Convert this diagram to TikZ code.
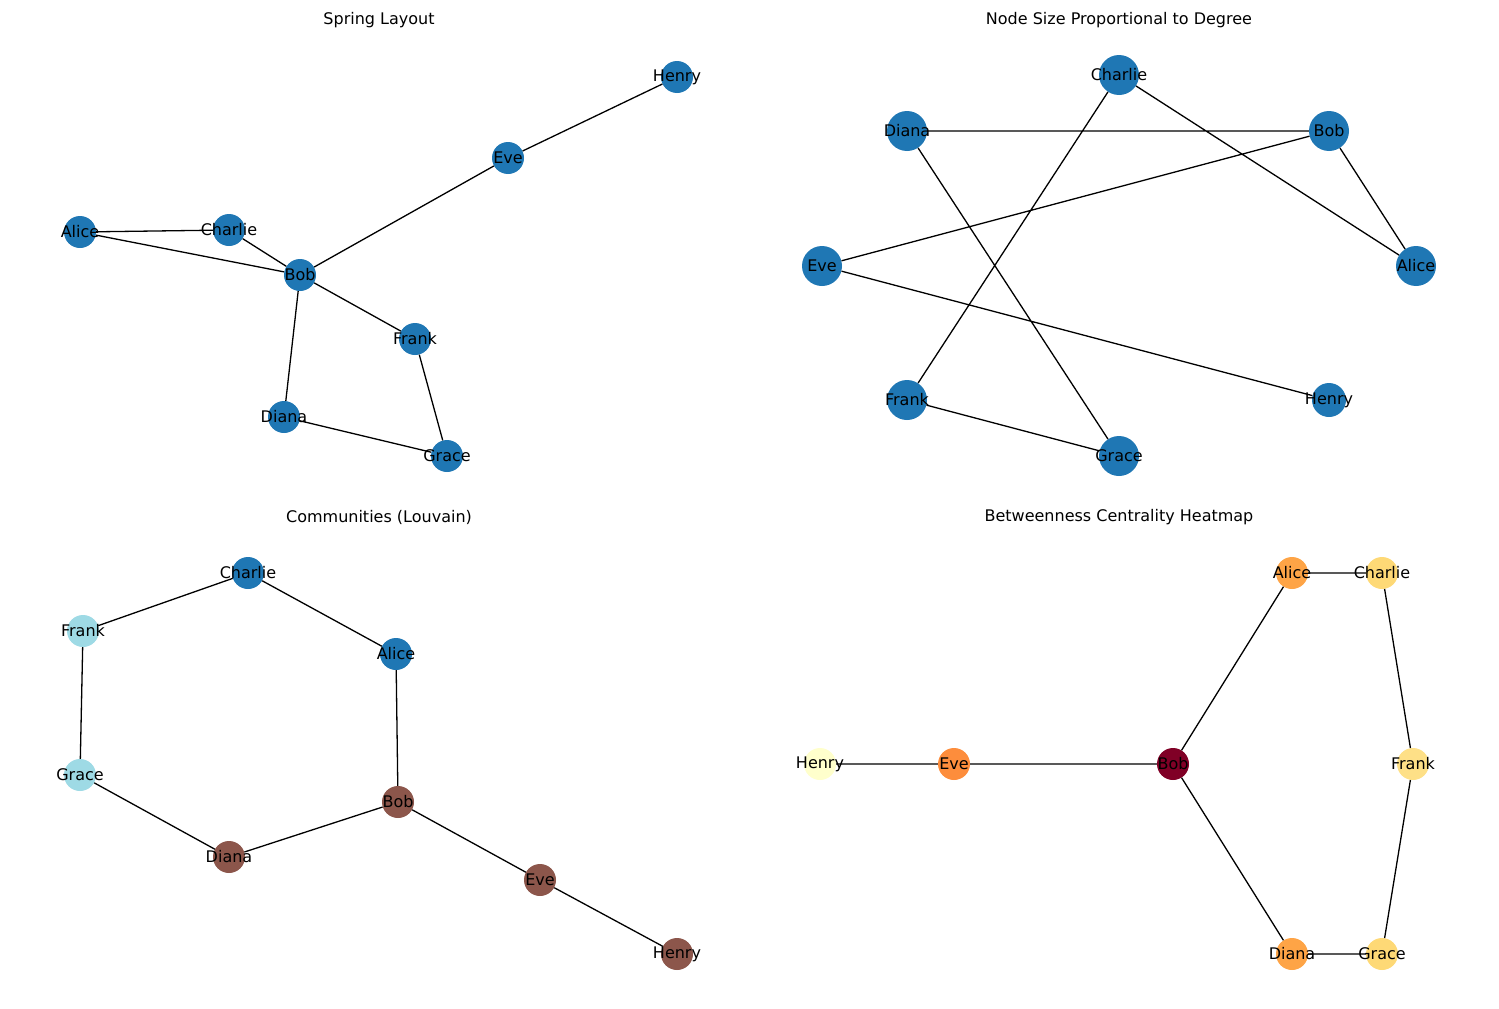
\documentclass[tikz,border=0pt]{standalone}
\usepackage{fontspec}
\setmainfont{DejaVu Sans}
\begin{document}
\begin{tikzpicture}[x=1pt,y=-1pt,
 v/.style={circle,draw=none,fill=cb,minimum size=32pt,inner sep=0pt,label={[font=\fontsize{16}{19}\selectfont]center:#1}},
 big/.style={minimum size=40pt},
 mid/.style={minimum size=34pt},
 t/.style={font=\fontsize{16}{19}\selectfont},
 e/.style={line width=1.3pt}]
\definecolor{cb}{HTML}{1F77B4}
\definecolor{cc}{HTML}{9EDAE5}
\definecolor{cr}{HTML}{8C564B}
\definecolor{y1}{HTML}{800026}
\definecolor{y2}{HTML}{FD8D3C}
\definecolor{y3}{HTML}{FEA446}
\definecolor{y4}{HTML}{FED976}
\definecolor{y5}{HTML}{FEE087}
\definecolor{y6}{HTML}{FFFFCC}
\useasboundingbox (0,0) rectangle (1499,1009);
\node[t] (t1) at (379,20) {Spring Layout};
\node[t] (t2) at (1119,20) {Node Size Proportional to Degree};
\node[t] (t3) at (379,517) {Communities (Louvain)};
\node[t] (t4) at (1119,517) {Betweenness Centrality Heatmap};
% panel 1
\node[v=Henry] (h1) at (677,77) {};
\node[v=Eve] (e1) at (508,158) {};
\node[v=Alice] (a1) at (80,232) {};
\node[v=Charlie] (c1) at (229,230) {};
\node[v=Bob] (b1) at (300,275) {};
\node[v=Frank] (f1) at (415,339) {};
\node[v=Diana] (d1) at (284,417) {};
\node[v=Grace] (g1) at (447,456) {};
\draw[e] (h1)--(e1) (e1)--(b1) (a1)--(c1) (a1)--(b1) (c1)--(b1) (b1)--(f1) (b1)--(d1) (f1)--(g1) (d1)--(g1);
% panel 2
\node[v=Charlie,big] (c2) at (1119,75) {};
\node[v=Diana,big] (d2) at (907,131) {};
\node[v=Bob,big] (b2) at (1329,131) {};
\node[v=Eve,big] (e2) at (822,266) {};
\node[v=Alice,big] (a2) at (1416,266) {};
\node[v=Frank,big] (f2) at (907,400) {};
\node[v=Henry,mid] (h2) at (1329,400) {};
\node[v=Grace,big] (g2) at (1119,456) {};
\draw[e] (d2)--(b2) (c2)--(f2) (c2)--(a2) (b2)--(a2) (b2)--(e2) (d2)--(g2) (e2)--(h2) (f2)--(g2);
% panel 3
\node[v=Charlie] (c3) at (248,573) {};
\node[v=Frank,fill=cc] (f3) at (83,631) {};
\node[v=Alice] (a3) at (396,654) {};
\node[v=Grace,fill=cc] (g3) at (80,775) {};
\node[v=Bob,fill=cr] (b3) at (398,802) {};
\node[v=Diana,fill=cr] (d3) at (229,857) {};
\node[v=Eve,fill=cr] (e3) at (540,880) {};
\node[v=Henry,fill=cr] (h3) at (677,954) {};
\draw[e] (c3)--(f3) (c3)--(a3) (f3)--(g3) (a3)--(b3) (g3)--(d3) (d3)--(b3) (b3)--(e3) (e3)--(h3);
% panel 4
\node[v=Alice,fill=y3] (a4) at (1292,573) {};
\node[v=Charlie,fill=y4] (c4) at (1382,573) {};
\node[v=Henry,fill=y6] (h4) at (820,764) {};
\node[v=Eve,fill=y2] (e4) at (954,764) {};
\node[v=Bob,fill=y1] (b4) at (1173,764) {};
\node[v=Frank,fill=y5] (f4) at (1413,764) {};
\node[v=Diana,fill=y3] (d4) at (1292,954) {};
\node[v=Grace,fill=y4] (g4) at (1382,954) {};
\draw[e] (a4)--(c4) (a4)--(b4) (c4)--(f4) (h4)--(e4) (e4)--(b4) (b4)--(d4) (f4)--(g4) (d4)--(g4);
\end{tikzpicture}
\end{document}
